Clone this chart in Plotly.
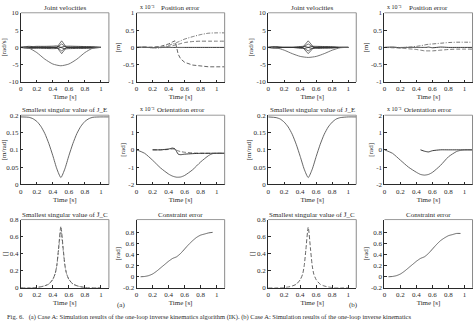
import plotly.graph_objects as go

# ---------------- data ----------------
# Joint velocities [rad/s]
jv_t = [0, 0.1, 0.2, 0.3, 0.4, 0.5, 0.6, 0.7, 0.8, 0.9, 1.0]
jv_a_q1 = [0, -0.2, -1.5, -3.4, -4.8, -5.3, -4.8, -3.4, -1.5, -0.2, 0]
jv_b_q1 = [0, -0.1, -0.8, -1.8, -2.6, -2.9, -2.6, -1.8, -0.8, -0.1, 0]
jv_band_t = [0, 0.05, 0.1, 0.15, 0.2, 0.3, 0.4, 0.45, 0.5, 0.55, 0.6, 0.7, 0.8, 0.9, 1.0]
jv_a_band1 = [0, 0.2, 0.3, 0.25, 0.3, 0.3, 0.35, 0.4, 0, -0.4, -0.35, -0.3, -0.3, -0.2, 0]
jv_a_band2 = [0, -0.2, -0.25, -0.3, -0.25, -0.3, -0.35, -0.3, 0, 0.3, 0.35, 0.3, 0.25, 0.2, 0]
jv_b_band1 = [0, 0.2, 0.25, 0.1, 0, 0, 0.25, 0.3, 0, -0.3, -0.3, -0.25, -0.2, 0, 0]
jv_b_band2 = [0, -0.2, -0.25, -0.1, 0, 0, -0.25, -0.3, 0, 0.3, 0.3, 0.25, 0.2, 0, 0]
jv_a_diam_t = [0, 0.45, 0.51, 0.57, 1.0]
jv_b_diam_t = [0, 0.43, 0.50, 0.57, 1.0]
jv_diam_outer_up = [0, 0, 1.9, 0, 0]
jv_diam_outer_dn = [0, 0, -1.8, 0, 0]
jv_diam_inner_up = [0, 0, 1.0, 0, 0]
jv_diam_inner_dn = [0, 0, -1.0, 0, 0]

# Position error [m] (x 1e-3)
pe_t = [0, 0.1, 0.2, 0.25, 0.3, 0.35, 0.4, 0.45, 0.48, 0.5, 0.52, 0.55, 0.6, 0.7, 0.8, 0.9, 1.0, 1.1]
pe_a_1 = [0, 0, 0, 0.01, 0.03, 0.06, 0.1, 0.16, 0.19, 0.0, -0.2, -0.33, -0.43, -0.51, -0.54, -0.56, -0.56, -0.56]
pe_a_2 = [0, 0, -0.01, -0.02, -0.01, 0.02, 0.06, 0.1, 0.12, 0.14, 0.16, 0.19, 0.24, 0.31, 0.37, 0.41, 0.42, 0.42]
pe_a_3 = [0, 0, 0, 0, 0, 0.01, 0.03, 0.05, 0.07, 0.08, 0.09, 0.11, 0.14, 0.17, 0.18, 0.18, 0.18, 0.18]
pe_a_4 = [0, 0.01, -0.01, 0.01, 0, 0, 0, 0, 0, 0, 0, 0, 0, 0, 0, 0, 0, 0]
pe_b_1 = [0, -0.01, -0.02, -0.03, -0.04, -0.05, -0.06, -0.08, -0.09, -0.1, -0.1, -0.1, -0.1, -0.08, -0.06, -0.05, -0.05, -0.05]
pe_b_2 = [0, 0, 0, 0, 0.01, 0.02, 0.03, 0.05, 0.06, 0.07, 0.08, 0.09, 0.1, 0.12, 0.14, 0.15, 0.15, 0.15]
pe_b_3 = [0, 0.01, -0.01, 0, 0, 0, 0, 0, 0, 0, 0, 0.01, -0.01, 0.01, 0, 0, 0, 0]

# Smallest singular value of J_E [m/rad]
je_t = [0, 0.1, 0.15, 0.2, 0.25, 0.3, 0.35, 0.4, 0.45, 0.5, 0.55, 0.6, 0.65, 0.7, 0.75, 0.8, 0.85, 0.9, 1.0, 1.1]
je_a = [0.195, 0.194, 0.19, 0.182, 0.168, 0.147, 0.118, 0.083, 0.045, 0.02, 0.045, 0.083, 0.118, 0.147, 0.168, 0.182, 0.19, 0.194, 0.195, 0.195]
je_b = [0.195, 0.193, 0.189, 0.18, 0.166, 0.145, 0.116, 0.081, 0.044, 0.02, 0.044, 0.081, 0.116, 0.145, 0.166, 0.18, 0.189, 0.193, 0.195, 0.195]

# Orientation error [rad] (x 1e-3)
oe_t = [0, 0.1, 0.2, 0.3, 0.4, 0.45, 0.5, 0.55, 0.6, 0.7, 0.8, 0.9, 0.95, 1.0, 1.1]
oe_a_1 = [0, -0.2, -0.6, -1.05, -1.4, -1.52, -1.58, -1.57, -1.48, -1.15, -0.7, -0.33, -0.22, -0.2, -0.2]
oe_b_1 = [0, -0.2, -0.6, -1.0, -1.3, -1.42, -1.46, -1.42, -1.3, -0.9, -0.4, -0.1, -0.03, 0, 0]
oe_a_t2 = [0.2, 0.3, 0.4, 0.45, 0.48, 0.5, 0.52, 0.55, 0.6, 0.7, 0.8, 0.9, 1.0, 1.1]
oe_a_2 = [0, 0.0, 0.05, 0.1, 0.05, -0.1, -0.25, -0.28, -0.25, -0.22, -0.2, -0.2, -0.2, -0.2]
oe_a_3 = [0, 0, 0.02, 0.05, 0.03, -0.02, -0.06, -0.1, -0.14, -0.18, -0.2, -0.2, -0.2, -0.2]
oe_b_t2 = [0.45, 0.5, 0.55, 0.6, 0.7, 0.8, 0.9, 1.0, 1.1]
oe_b_2 = [0, -0.08, -0.12, -0.05, 0, 0, 0, 0, 0]

# Smallest singular value of J~_C []
jc_t = [0, 0.1, 0.2, 0.25, 0.3, 0.35, 0.4, 0.43, 0.45, 0.47, 0.5, 0.53, 0.55, 0.57, 0.6, 0.65, 0.7, 0.75, 0.8, 0.85, 0.9, 1.0]
jc_a = [0, 0, 0.005, 0.012, 0.025, 0.045, 0.1, 0.17, 0.27, 0.45, 0.72, 0.45, 0.27, 0.17, 0.1, 0.045, 0.025, 0.012, 0.005, 0, 0, 0]
jc_a_2 = [0, 0, 0.005, 0.012, 0.025, 0.045, 0.1, 0.17, 0.26, 0.43, 0.66, 0.43, 0.26, 0.17, 0.1, 0.045, 0.025, 0.012, 0.005, 0, 0, 0]
jc_b = [0, 0, 0.004, 0.01, 0.022, 0.042, 0.095, 0.16, 0.26, 0.44, 0.71, 0.44, 0.26, 0.16, 0.095, 0.042, 0.022, 0.01, 0.004, 0, 0, 0]

# Constraint error [rad]
ce_t = [0.05, 0.1, 0.15, 0.2, 0.25, 0.3, 0.35, 0.4, 0.45, 0.5, 0.55, 0.6, 0.65, 0.7, 0.75, 0.8, 0.85, 0.9, 0.95]
ce_a = [0, 0.005, 0.02, 0.05, 0.1, 0.16, 0.22, 0.28, 0.33, 0.36, 0.42, 0.5, 0.58, 0.65, 0.71, 0.75, 0.77, 0.79, 0.8]
ce_b = [0, 0.005, 0.02, 0.05, 0.1, 0.16, 0.22, 0.28, 0.33, 0.36, 0.42, 0.5, 0.58, 0.65, 0.7, 0.74, 0.76, 0.78, 0.78]

time_ticks = [0, 0.2, 0.4, 0.6, 0.8, 1]
time_ticktext = ["0", "0.2", "0.4", "0.6", "0.8", "1"]

titles = ["Joint velocities", "Position error",
          "Smallest singular value of J_E", "Orientation error",
          "Smallest singular value of J\u0303_C", "Constraint error"]
ylabels = ["[rad/s]", "[m]", "[m/rad]", "[rad]", "[]", "[rad]"]
ytick_sets = [
    ([-10, -5, 0, 5, 10], ["-10", "-5", "0", "5", "10"]),
    ([-1, -0.5, 0, 0.5, 1], ["-1", "-0.5", "0", "0.5", "1"]),
    ([0, 0.05, 0.1, 0.15, 0.2], ["0", "0.05", "0.1", "0.15", "0.2"]),
    ([-2, -1, 0, 1, 2], ["-2", "-1", "0", "1", "2"]),
    ([0, 0.2, 0.4, 0.6, 0.8], ["0", "0.2", "0.4", "0.6", "0.8"]),
    ([-0.2, 0, 0.2, 0.4, 0.6, 0.8], ["-0.2", "0", "0.2", "0.4", "0.6", "0.8"]),
]
yranges = [[-10, 10], [-1, 1], [0, 0.2], [-2, 2], [0, 0.8], [-0.2, 1.03]]
scale_note = "x 10\u207b\u00b3"
caption = ("Fig. 6.   (a) Case A: Simulation results of the one-loop inverse kinematics "
           "algorithm (IK). (b) Case A: Simulation results of the one-loop inverse kinematics")

# ---------------- layout geometry ----------------
W, H = 474, 326
COLS = [(16, 105), (133, 222), (266, 355), (383.5, 472.5)]
ROWS = [(9, 80), (114, 185), (221, 291)]
FONT = "Liberation Serif, Times New Roman, serif"
INK = "#2a2a2a"


def fx(px):
    return px / W


def fy(py):
    return 1 - py / H


fig = go.Figure()
shapes = []
annotations = []


def axis_id(row, col):
    return row * 4 + col + 1


def add_line(row, col, x, y, color="#555", width=0.9, dash="solid", shape="spline"):
    k = axis_id(row, col)
    fig.add_trace(go.Scatter(
        x=x, y=y, mode="lines",
        line=dict(color=color, width=width, dash=dash, shape=shape, smoothing=0.6),
        xaxis=f"x{k}", yaxis=f"y{k}", showlegend=False, hoverinfo="skip"))


# axes
for row in range(3):
    for col in range(4):
        k = axis_id(row, col)
        q = row * 2 + (col % 2)
        x0, x1 = COLS[col]
        y0, y1 = ROWS[row]
        xa = dict(domain=[fx(x0), fx(x1)], range=[0, 1.1], anchor=f"y{k}",
                  showline=True, linecolor=INK, linewidth=1, mirror=False,
                  ticks="inside", ticklen=2.5, tickcolor=INK, tickwidth=0.8,
                  tickvals=time_ticks, ticktext=time_ticktext,
                  tickfont=dict(family=FONT, size=7, color=INK),
                  showgrid=False, zeroline=False,
                  title=dict(text="Time [s]", font=dict(family=FONT, size=7, color=INK), standoff=1))
        tv, tt = ytick_sets[q]
        ya = dict(domain=[fy(y1), fy(y0)], range=yranges[q], anchor=f"x{k}",
                  showline=True, linecolor=INK, linewidth=1, mirror=False,
                  ticks="inside", ticklen=2.5, tickcolor=INK, tickwidth=0.8,
                  tickvals=tv, ticktext=tt,
                  tickfont=dict(family=FONT, size=7, color=INK),
                  showgrid=False, zeroline=False,
                  title=dict(text=ylabels[q], font=dict(family=FONT, size=7, color=INK), standoff=1))
        sfx = "" if k == 1 else str(k)
        fig.layout["xaxis" + sfx] = xa
        fig.layout["yaxis" + sfx] = ya
        # faint top and right frame
        shapes.append(dict(type="line", xref="paper", yref="paper",
                           x0=fx(x0), x1=fx(x1), y0=fy(y0), y1=fy(y0),
                           line=dict(color="#9a9a9a", width=1)))
        shapes.append(dict(type="line", xref="paper", yref="paper",
                           x0=fx(x1), x1=fx(x1), y0=fy(y0), y1=fy(y1),
                           line=dict(color="#8a8a8a", width=1)))
        annotations.append(dict(text=titles[q], xref="paper", yref="paper",
                                x=fx((x0 + x1) / 2), y=fy(y0 - 5), xanchor="center", yanchor="middle",
                                showarrow=False, font=dict(family=FONT, size=7, color=INK)))
        if q in (1, 3):
            annotations.append(dict(text=scale_note, xref="paper", yref="paper",
                                    x=fx(x0 + 1), y=fy(y0 - 1), xanchor="left", yanchor="bottom",
                                    showarrow=False, font=dict(family=FONT, size=6, color=INK)))

# Joint velocities
for col, q1, b1, b2, dt in [(0, jv_a_q1, jv_a_band1, jv_a_band2, jv_a_diam_t),
                             (2, jv_b_q1, jv_b_band1, jv_b_band2, jv_b_diam_t)]:
    add_line(0, col, jv_band_t, b1, color="#222", width=0.8)
    add_line(0, col, jv_band_t, b2, color="#222", width=0.8)
    add_line(0, col, dt, jv_diam_outer_up, color="#333", width=0.7, shape="linear")
    add_line(0, col, dt, jv_diam_outer_dn, color="#333", width=0.7, shape="linear")
    add_line(0, col, dt, jv_diam_inner_up, color="#333", width=0.7, shape="linear")
    add_line(0, col, dt, jv_diam_inner_dn, color="#333", width=0.7, shape="linear")
    add_line(0, col, jv_t, q1, color="#666", width=0.9)

DASH = "4px,2px"
DASHDOT = "4px,1.5px,1px,1.5px"

# Position error
add_line(0, 1, pe_t, pe_a_4, color="#222", width=0.9)
add_line(0, 1, pe_t, pe_a_3, color="#666", width=0.9, dash=DASH)
add_line(0, 1, pe_t, pe_a_2, color="#666", width=0.9, dash=DASHDOT)
add_line(0, 1, pe_t, pe_a_1, color="#555", width=0.9, dash=DASH, shape="linear")
add_line(0, 3, pe_t, pe_b_3, color="#222", width=0.9)
add_line(0, 3, pe_t, pe_b_1, color="#666", width=0.9, dash=DASH)
add_line(0, 3, pe_t, pe_b_2, color="#666", width=0.9, dash=DASHDOT)

# Smallest singular value of J_E
add_line(1, 0, je_t, je_a, color="#555", width=0.9)
add_line(1, 2, je_t, je_b, color="#555", width=0.9)

# Orientation error
add_line(1, 1, oe_a_t2, oe_a_3, color="#666", width=0.9, dash=DASH)
add_line(1, 1, oe_a_t2, oe_a_2, color="#222", width=0.9)
add_line(1, 1, oe_t, oe_a_1, color="#555", width=0.9)
add_line(1, 3, oe_b_t2, oe_b_2, color="#222", width=0.9)
add_line(1, 3, oe_t, oe_b_1, color="#555", width=0.9)

# Smallest singular value of J~_C
add_line(2, 0, jc_t, jc_a_2, color="#888", width=0.8, dash="2px,1.5px")
add_line(2, 0, jc_t, jc_a, color="#555", width=0.9, dash=DASH)
add_line(2, 2, jc_t, jc_b, color="#555", width=0.9, dash=DASH)

# Constraint error
add_line(2, 1, ce_t, ce_a, color="#555", width=0.9)
add_line(2, 3, ce_t, ce_b, color="#555", width=0.9)

annotations += [
    dict(text="(a)", xref="paper", yref="paper", x=fx(117), y=fy(309), xanchor="center",
         yanchor="middle", showarrow=False, font=dict(family=FONT, size=7, color=INK)),
    dict(text="(b)", xref="paper", yref="paper", x=fx(352), y=fy(309), xanchor="center",
         yanchor="middle", showarrow=False, font=dict(family=FONT, size=7, color=INK)),
    dict(text=caption, xref="paper", yref="paper", x=0, y=fy(321), xanchor="left",
         yanchor="middle", showarrow=False, font=dict(family=FONT, size=6.5, color=INK)),
]

fig.update_layout(width=W, height=H, margin=dict(l=0, r=0, t=0, b=0),
                  paper_bgcolor="white", plot_bgcolor="white",
                  shapes=shapes, annotations=annotations, showlegend=False)

fig.write_html("out.html")
